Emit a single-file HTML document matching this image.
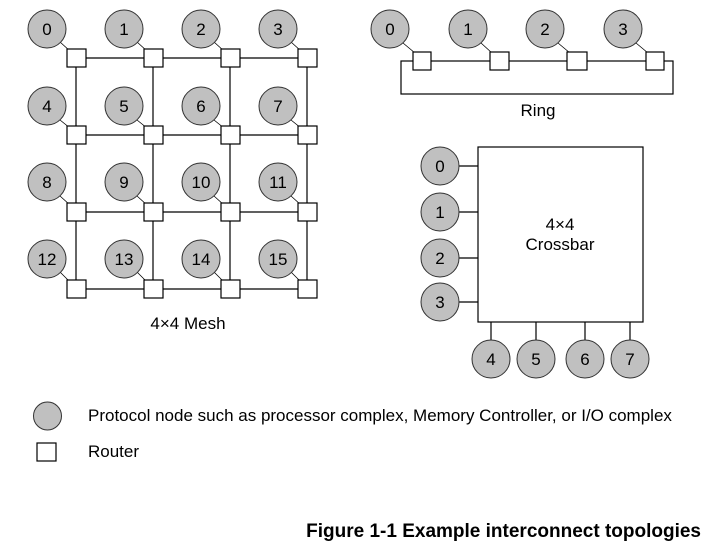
<!DOCTYPE html>
<html><head><meta charset="utf-8"><style>
html,body{margin:0;padding:0;background:#fff;}
svg{display:block;font-family:"Liberation Sans",Arial,sans-serif;}
</style></head><body>
<svg width="705" height="546" viewBox="0 0 705 546" xmlns="http://www.w3.org/2000/svg">
<g stroke="#000" stroke-width="1.2" fill="none">
<line x1="76" y1="58" x2="307" y2="58"/><line x1="76" y1="135" x2="307" y2="135"/>
<line x1="76" y1="212" x2="307" y2="212"/><line x1="76" y1="289" x2="307" y2="289"/>
<line x1="76" y1="58" x2="76" y2="289"/><line x1="153" y1="58" x2="153" y2="289"/>
<line x1="230" y1="58" x2="230" y2="289"/><line x1="307" y1="58" x2="307" y2="289"/>
<rect x="401" y="61" width="272" height="33"/>
<line x1="459" y1="166" x2="478" y2="166"/><line x1="459" y1="212" x2="478" y2="212"/>
<line x1="459" y1="258" x2="478" y2="258"/><line x1="459" y1="302" x2="478" y2="302"/>
<line x1="491" y1="322" x2="491" y2="341"/><line x1="536" y1="322" x2="536" y2="341"/>
<line x1="585" y1="322" x2="585" y2="341"/><line x1="630" y1="322" x2="630" y2="341"/>
</g>
<g stroke="#000" stroke-width="0.8">
<line x1="60" y1="42" x2="70" y2="51"/><line x1="137" y1="42" x2="147" y2="51"/><line x1="214" y1="42" x2="224" y2="51"/><line x1="291" y1="42" x2="301" y2="51"/>
<line x1="60" y1="120" x2="70" y2="128"/><line x1="137" y1="120" x2="147" y2="128"/><line x1="214" y1="120" x2="224" y2="128"/><line x1="291" y1="120" x2="301" y2="128"/>
<line x1="60" y1="196" x2="70" y2="205"/><line x1="137" y1="196" x2="147" y2="205"/><line x1="214" y1="196" x2="224" y2="205"/><line x1="291" y1="196" x2="301" y2="205"/>
<line x1="60" y1="272" x2="70" y2="282"/><line x1="137" y1="272" x2="147" y2="282"/><line x1="214" y1="272" x2="224" y2="282"/><line x1="291" y1="272" x2="301" y2="282"/>
<line x1="403" y1="43" x2="415" y2="53"/><line x1="481" y1="43" x2="492" y2="53"/><line x1="558" y1="43" x2="570" y2="53"/><line x1="636" y1="43" x2="648" y2="53"/>
</g>
<g fill="#fff" stroke="#000" stroke-width="1.2">
<rect x="67" y="49" width="19" height="18"/><rect x="144" y="49" width="19" height="18"/><rect x="221" y="49" width="19" height="18"/><rect x="298" y="49" width="19" height="18"/>
<rect x="67" y="126" width="19" height="18"/><rect x="144" y="126" width="19" height="18"/><rect x="221" y="126" width="19" height="18"/><rect x="298" y="126" width="19" height="18"/>
<rect x="67" y="203" width="19" height="18"/><rect x="144" y="203" width="19" height="18"/><rect x="221" y="203" width="19" height="18"/><rect x="298" y="203" width="19" height="18"/>
<rect x="67" y="280" width="19" height="18"/><rect x="144" y="280" width="19" height="18"/><rect x="221" y="280" width="19" height="18"/><rect x="298" y="280" width="19" height="18"/>
<rect x="413" y="52" width="18" height="18"/><rect x="490" y="52" width="19" height="18"/><rect x="567" y="52" width="20" height="18"/><rect x="646" y="52" width="18" height="18"/>
<rect x="478" y="147" width="165" height="175"/>
<rect x="37" y="443" width="19" height="18"/>
</g>
<g fill="#c0c0c0" stroke="#333" stroke-width="1">
<circle cx="47" cy="29" r="19"/><circle cx="124" cy="29" r="19"/><circle cx="201" cy="29" r="19"/><circle cx="278" cy="29" r="19"/>
<circle cx="47" cy="106" r="19"/><circle cx="124" cy="106" r="19"/><circle cx="201" cy="106" r="19"/><circle cx="278" cy="106" r="19"/>
<circle cx="47" cy="182" r="19"/><circle cx="124" cy="182" r="19"/><circle cx="201" cy="182" r="19"/><circle cx="278" cy="182" r="19"/>
<circle cx="47" cy="259" r="19"/><circle cx="124" cy="259" r="19"/><circle cx="201" cy="259" r="19"/><circle cx="278" cy="259" r="19"/>
<circle cx="390" cy="29" r="19"/><circle cx="468" cy="29" r="19"/><circle cx="545" cy="29" r="19"/><circle cx="623" cy="29" r="19"/>
<circle cx="440" cy="166" r="19"/><circle cx="440" cy="212" r="19"/><circle cx="440" cy="258" r="19"/><circle cx="440" cy="302" r="19"/>
<circle cx="491" cy="359" r="19"/><circle cx="536" cy="359" r="19"/><circle cx="585" cy="359" r="19"/><circle cx="630" cy="359" r="19"/>
<circle cx="47.5" cy="416" r="14"/>
</g>
<g font-size="17" fill="#000" text-anchor="middle">
<text x="47" y="35">0</text><text x="124" y="35">1</text><text x="201" y="35">2</text><text x="278" y="35">3</text>
<text x="47" y="112">4</text><text x="124" y="112">5</text><text x="201" y="112">6</text><text x="278" y="112">7</text>
<text x="47" y="188">8</text><text x="124" y="188">9</text><text x="201" y="188">10</text><text x="278" y="188">11</text>
<text x="47" y="265">12</text><text x="124" y="265">13</text><text x="201" y="265">14</text><text x="278" y="265">15</text>
<text x="390" y="35">0</text><text x="468" y="35">1</text><text x="545" y="35">2</text><text x="623" y="35">3</text>
<text x="440" y="172">0</text><text x="440" y="218">1</text><text x="440" y="264">2</text><text x="440" y="308">3</text>
<text x="491" y="365">4</text><text x="536" y="365">5</text><text x="585" y="365">6</text><text x="630" y="365">7</text>
<text x="188" y="329">4×4 Mesh</text>
<text x="538" y="116">Ring</text>
<text x="560" y="230">4×4</text>
<text x="560" y="250">Crossbar</text>
</g>
<g font-size="17" fill="#000">
<text x="88" y="421">Protocol node such as processor complex, Memory Controller, or I/O complex</text>
<text x="88" y="457">Router</text>
<text x="701" y="537" text-anchor="end" font-weight="bold" font-size="19">Figure 1-1 Example interconnect topologies</text>
</g>
</svg>
</body></html>
